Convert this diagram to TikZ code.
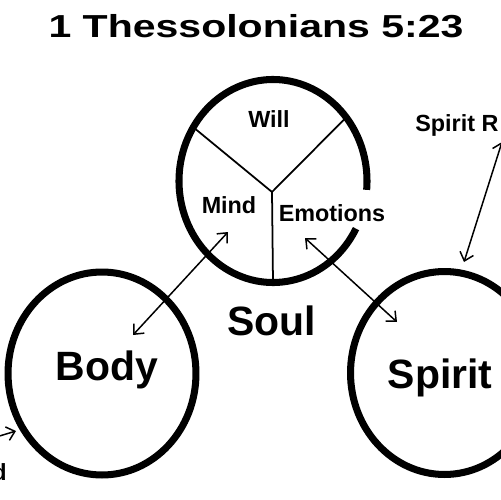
\documentclass[tikz,border=0pt]{standalone}
\usepackage{fontspec}
\setmainfont{Liberation Sans}
\usetikzlibrary{shapes.geometric,arrows.meta,calc}
\tikzset{
  ring/.style={ellipse, draw, line width=4pt, minimum width=3.76cm, minimum height=4.06cm, inner sep=0pt, outer sep=0pt},
  spoke/.style={line width=1pt},
  bigtext/.style={font=\fontsize{23.3}{26}\selectfont\bfseries, inner sep=0pt, anchor=base},
  smalltext/.style={font=\fontsize{13.3}{15}\selectfont\bfseries, inner sep=0pt, anchor=base},
  titletext/.style={font=\fontsize{18.1}{21}\selectfont\bfseries, inner sep=0pt, anchor=base},
  link/.style={{Straight Barb[length=4.5pt,width=8pt]}-{Straight Barb[length=4.5pt,width=8pt]}, line width=0.85pt},
}
\begin{document}
\begin{tikzpicture}[x=0.02cm, y=-0.02cm]
            \useasboundingbox (0,0) rectangle (500,500);
            %circles
            \node[ring] (body) at (102,373.5) {};
            \node[ring] (spirit) at (444.5,373) {};
            \node[ring, draw=none] (soul) at (273,181) {};
            \draw[line width=4pt] ($(soul)+(28:94 and 101.5)$) arc[start angle=28, end angle=365, x radius=94, y radius=101.5];

            %spokes
            \coordinate (hub) at (272,192);
            \draw[spoke] (hub) -- (soul.146);
            \draw[spoke] (hub) -- (soul.41);
            \draw[spoke] (hub) -- (soul.south);

            %labels
            \node[titletext] (title) at (256,38) {\scalebox{1.29}[1]{1 Thessolonians 5:23}};
            \node[bigtext] (bodytxt) at (107,380) {Body};
            \node[bigtext] (soultxt) at (272,335) {Soul};
            \node[bigtext] (spirittxt) at (440,388) {Spirit};
            \node[smalltext] (will) at (269,128) {Will};
            \node[smalltext] (mind) at (229,213) {Mind};
            \node[smalltext] (emotions) at (332,221) {Emotions};
            \node[smalltext, anchor=base west] (realm) at (415,132) {Spirit R};
            \node[smalltext, anchor=base east] (cut) at (7,480) {d};

            %arrows
            \coordinate (m1) at (133,335);
            \coordinate (m2) at (228,232);
            \coordinate (e1) at (305,238);
            \coordinate (e2) at (397,322);
            \coordinate (r1) at (464,262);
            \coordinate (r2) at (502,142);
            \coordinate (b1) at (16,431);
            \coordinate (b2) at (-40,448);
            \draw[link] (m1) -- (m2);
            \draw[link] (e1) -- (e2);
            \draw[link] (r1) -- (r2);
            \draw[link] (b2) -- (b1);

    \end{tikzpicture}
\end{document}
